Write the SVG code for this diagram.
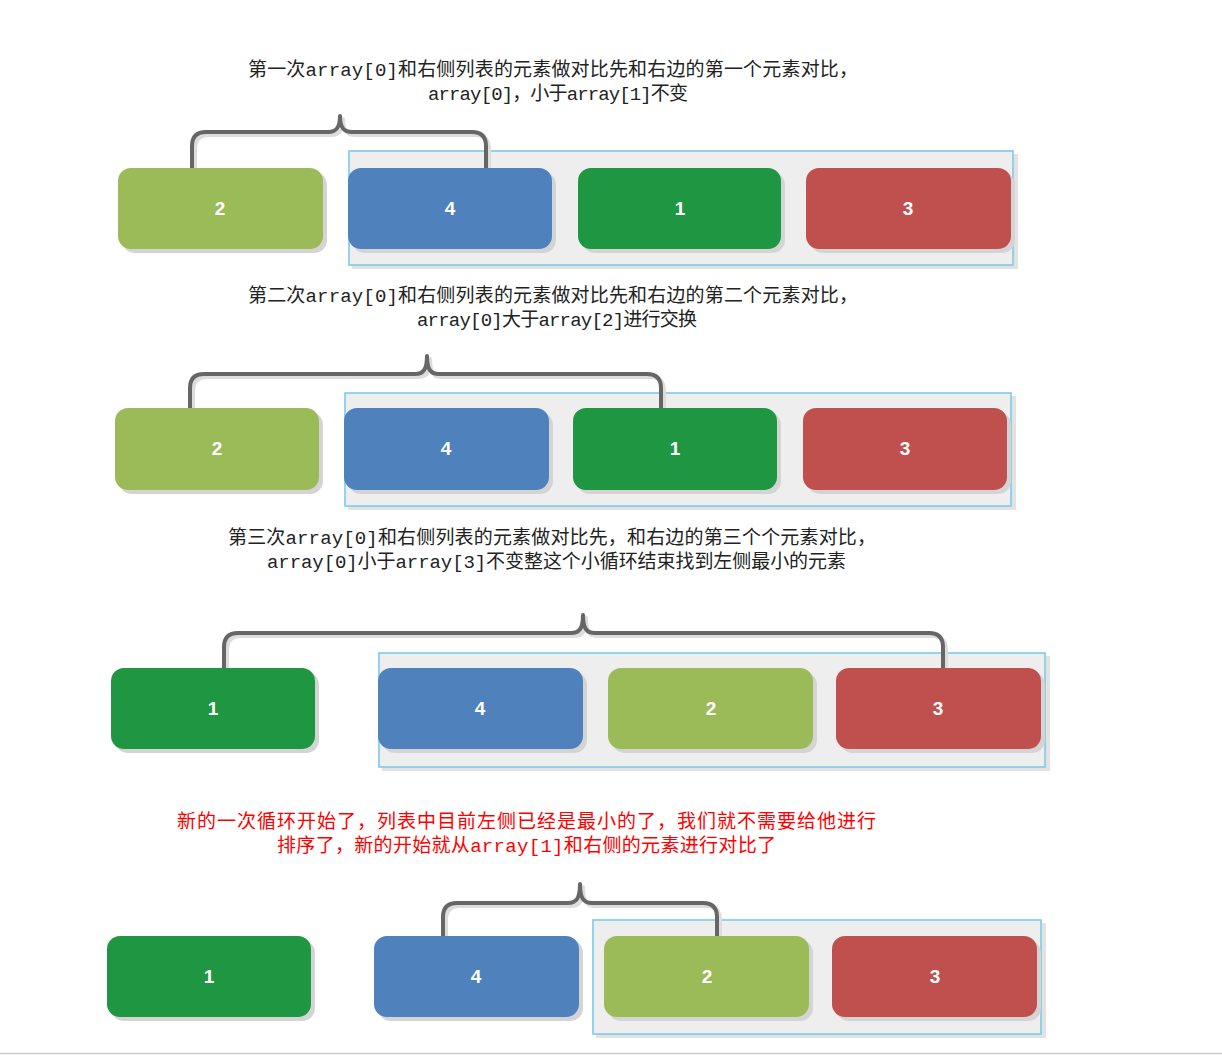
<svg xmlns="http://www.w3.org/2000/svg" width="1222" height="1060" viewBox="0 0 1222 1060">
<defs>
<style>
.cap{font-family:"Liberation Mono","Noto Sans CJK SC",monospace;font-size:19px;fill:#222}
.red{fill:#ff0000}
.lbl{font-family:"Liberation Sans",Arial,sans-serif;font-size:19px;font-weight:bold;fill:#ffffff;text-anchor:middle}
.box{stroke:none}
.sh{fill:#d4d4d4}
.olive{fill:#9bbb59}
.blue{fill:#4f81bd}
.green{fill:#1f9641}
.redb{fill:#c0504d}
.cont{fill:#eeeeee;stroke:#7ccbe8;stroke-width:1.6}
.csh{fill:#e2e2e2}
.br{fill:none;stroke:#666666;stroke-width:4;stroke-linejoin:round;stroke-linecap:butt}
.brs{fill:none;stroke:#dddddd;stroke-width:4;stroke-linejoin:round}
</style>
</defs>
<rect width="1222" height="1060" fill="#ffffff"/>

<!-- captions -->
<g id="caption1">
<text class="cap" x="248" y="76" textLength="610" lengthAdjust="spacing">第一次array[0]和右侧列表的元素做对比先和右边的第一个元素对比，</text>
<text class="cap" x="428" y="100" textLength="260" lengthAdjust="spacing">array[0]，小于array[1]不变</text>
</g>
<g id="caption2">
<text class="cap" x="248" y="302" textLength="610" lengthAdjust="spacing">第二次array[0]和右侧列表的元素做对比先和右边的第二个元素对比，</text>
<text class="cap" x="417" y="326" textLength="280" lengthAdjust="spacing">array[0]大于array[2]进行交换</text>
</g>
<g id="caption3">
<text class="cap" x="228" y="544" textLength="648" lengthAdjust="spacing">第三次array[0]和右侧列表的元素做对比先，和右边的第三个个元素对比，</text>
<text class="cap" x="267" y="568" textLength="579" lengthAdjust="spacing">array[0]小于array[3]不变整这个小循环结束找到左侧最小的元素</text>
</g>
<g id="caption4">
<text class="cap red" x="177" y="828" textLength="699" lengthAdjust="spacing">新的一次循环开始了，列表中目前左侧已经是最小的了，我们就不需要给他进行</text>
<text class="cap red" x="277" y="852" textLength="499" lengthAdjust="spacing">排序了，新的开始就从array[1]和右侧的元素进行对比了</text>
</g>

<!-- containers -->
<g id="container1"><rect class="csh" x="352" y="154" width="666" height="115"/><rect class="cont" x="349" y="151" width="664" height="114"/></g>
<g id="container2"><rect class="csh" x="348" y="396" width="668" height="114"/><rect class="cont" x="345" y="393" width="666" height="113"/></g>
<g id="container3"><rect class="csh" x="382" y="656" width="668" height="115"/><rect class="cont" x="379" y="653" width="666" height="114"/></g>
<g id="container4"><rect class="csh" x="596" y="923" width="450" height="115"/><rect class="cont" x="593" y="920" width="448" height="114"/></g>

<!-- connectors (braces) -->
<g id="connectors">
<path class="brs" transform="translate(3,3)" d="M192,168 V146 Q192,132 206,132 H328 C336,132 340,128 340,116 C340,128 344,132 352,132 H472 Q486,132 486,146 V168"/>
<path class="br" d="M192,168 V146 Q192,132 206,132 H328 C336,132 340,128 340,116 C340,128 344,132 352,132 H472 Q486,132 486,146 V168"/>
<path class="brs" transform="translate(3,3)" d="M190,408 V388 Q190,374 204,374 H415 C423,374 427,370 427,356 C427,370 431,374 439,374 H647 Q661,374 661,388 V408"/>
<path class="br" d="M190,408 V388 Q190,374 204,374 H415 C423,374 427,370 427,356 C427,370 431,374 439,374 H647 Q661,374 661,388 V408"/>
<path class="brs" transform="translate(3,3)" d="M224,668 V647 Q224,633 238,633 H571 C579,633 583,629 583,615 C583,629 587,633 595,633 H929 Q943,633 943,647 V668"/>
<path class="br" d="M224,668 V647 Q224,633 238,633 H571 C579,633 583,629 583,615 C583,629 587,633 595,633 H929 Q943,633 943,647 V668"/>
<path class="brs" transform="translate(3,3)" d="M443,936 V917 Q443,903 457,903 H568 C576,903 580,899 580,884 C580,899 584,903 592,903 H703 Q717,903 717,917 V936"/>
<path class="br" d="M443,936 V917 Q443,903 457,903 H568 C576,903 580,899 580,884 C580,899 584,903 592,903 H703 Q717,903 717,917 V936"/>
</g>

<!-- row 1 -->
<g id="r1n1"><rect class="sh" x="122" y="172" width="205" height="81" rx="13"/><rect class="box olive" x="118" y="168" width="205" height="81" rx="13"/><text class="lbl" x="220" y="215">2</text></g>
<g id="r1n2"><rect class="sh" x="352" y="172" width="204" height="81" rx="13"/><rect class="box blue" x="348" y="168" width="204" height="81" rx="13"/><text class="lbl" x="450" y="215">4</text></g>
<g id="r1n3"><rect class="sh" x="582" y="172" width="203" height="81" rx="13"/><rect class="box green" x="578" y="168" width="203" height="81" rx="13"/><text class="lbl" x="680" y="215">1</text></g>
<g id="r1n4"><rect class="sh" x="810" y="172" width="205" height="81" rx="13"/><rect class="box redb" x="806" y="168" width="205" height="81" rx="13"/><text class="lbl" x="908" y="215">3</text></g>

<!-- row 2 -->
<g id="r2n1"><rect class="sh" x="119" y="412" width="204" height="82" rx="13"/><rect class="box olive" x="115" y="408" width="204" height="82" rx="13"/><text class="lbl" x="217" y="455">2</text></g>
<g id="r2n2"><rect class="sh" x="348" y="412" width="205" height="82" rx="13"/><rect class="box blue" x="344" y="408" width="205" height="82" rx="13"/><text class="lbl" x="446" y="455">4</text></g>
<g id="r2n3"><rect class="sh" x="577" y="412" width="204" height="82" rx="13"/><rect class="box green" x="573" y="408" width="204" height="82" rx="13"/><text class="lbl" x="675" y="455">1</text></g>
<g id="r2n4"><rect class="sh" x="807" y="412" width="204" height="82" rx="13"/><rect class="box redb" x="803" y="408" width="204" height="82" rx="13"/><text class="lbl" x="905" y="455">3</text></g>

<!-- row 3 -->
<g id="r3n1"><rect class="sh" x="115" y="672" width="204" height="81" rx="13"/><rect class="box green" x="111" y="668" width="204" height="81" rx="13"/><text class="lbl" x="213" y="715">1</text></g>
<g id="r3n2"><rect class="sh" x="382" y="672" width="205" height="81" rx="13"/><rect class="box blue" x="378" y="668" width="205" height="81" rx="13"/><text class="lbl" x="480" y="715">4</text></g>
<g id="r3n3"><rect class="sh" x="612" y="672" width="205" height="81" rx="13"/><rect class="box olive" x="608" y="668" width="205" height="81" rx="13"/><text class="lbl" x="711" y="715">2</text></g>
<g id="r3n4"><rect class="sh" x="840" y="672" width="205" height="81" rx="13"/><rect class="box redb" x="836" y="668" width="205" height="81" rx="13"/><text class="lbl" x="938" y="715">3</text></g>

<!-- row 4 -->
<g id="r4n1"><rect class="sh" x="111" y="940" width="204" height="81" rx="13"/><rect class="box green" x="107" y="936" width="204" height="81" rx="13"/><text class="lbl" x="209" y="983">1</text></g>
<g id="r4n2"><rect class="sh" x="378" y="940" width="205" height="81" rx="13"/><rect class="box blue" x="374" y="936" width="205" height="81" rx="13"/><text class="lbl" x="476" y="983">4</text></g>
<g id="r4n3"><rect class="sh" x="608" y="940" width="205" height="81" rx="13"/><rect class="box olive" x="604" y="936" width="205" height="81" rx="13"/><text class="lbl" x="707" y="983">2</text></g>
<g id="r4n4"><rect class="sh" x="836" y="940" width="205" height="81" rx="13"/><rect class="box redb" x="832" y="936" width="205" height="81" rx="13"/><text class="lbl" x="935" y="983">3</text></g>

<line x1="0" y1="1053.5" x2="1222" y2="1053.5" stroke="#cccccc" stroke-width="1.5"/>
</svg>
